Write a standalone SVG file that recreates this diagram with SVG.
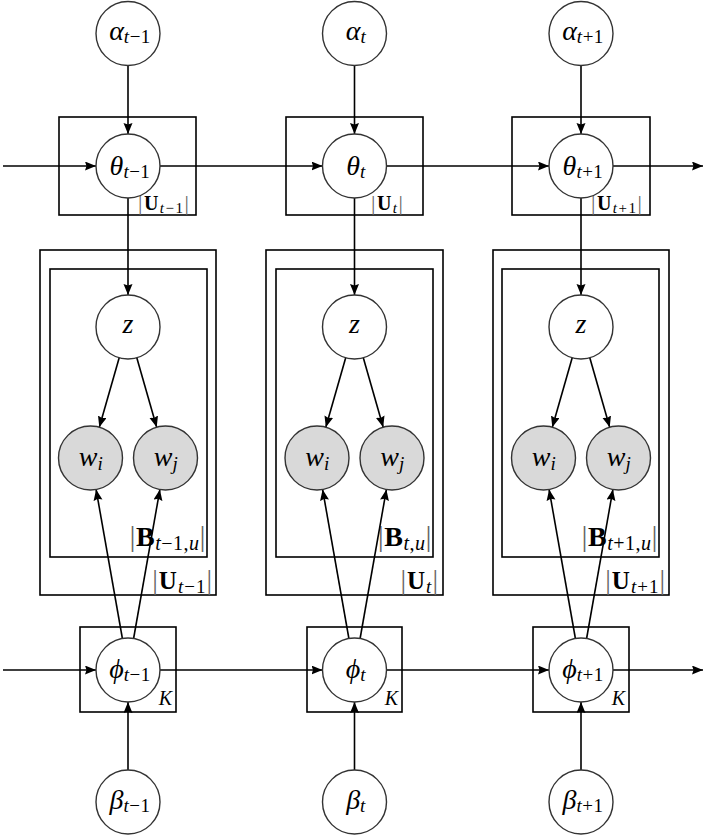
<svg xmlns="http://www.w3.org/2000/svg" width="710" height="836" viewBox="0 0 710 836" font-family="'Liberation Serif', 'Times New Roman', 'DejaVu Serif', serif">
<defs>
<marker id="arr" markerUnits="userSpaceOnUse" markerWidth="13" markerHeight="10" refX="11" refY="4.5" orient="auto"><path d="M0,0 L11,4.5 L0,9 L1.5,4.5 z" fill="#000"/></marker>
</defs>
<style>
.plate{fill:none;stroke:#000;stroke-width:1.6}
.edge{fill:none;stroke:#000;stroke-width:1.6;marker-end:url(#arr)}
.var{fill:#fff;stroke:#333;stroke-width:1.4}
.obs{fill:#d9d9d9;stroke:#333;stroke-width:1.4}
text{fill:#000}
.m{font-size:28px;font-style:italic}
.s{font-size:19px;letter-spacing:0.5px}
.i{font-style:italic}
.n{font-style:normal}
.bar{fill:#666;font-style:normal;font-weight:normal}
.b{font-weight:bold;font-style:normal}
.l1{font-size:20px;letter-spacing:1.5px}
.l1 .bar{font-size:22px}
.l1 .sub{font-size:15px}
.l2{font-size:25px;letter-spacing:1px}
.l2 .bar{font-size:28px}
.l2 .sub{font-size:19px}
.l3{font-size:28px;letter-spacing:0.5px}
.l3 .bar{font-size:30px}
.l3 .sub{font-size:20px}
.k{font-size:20px;font-style:italic}
</style>

<g id="plates">
  <rect class="plate" x="59" y="117" width="137" height="98"/>
  <rect class="plate" x="286" y="117" width="137" height="98"/>
  <rect class="plate" x="512" y="117" width="138" height="98"/>
  <rect class="plate" x="40" y="250" width="176" height="345"/>
  <rect class="plate" x="266" y="250" width="177" height="345"/>
  <rect class="plate" x="493" y="250" width="176" height="345"/>
  <rect class="plate" x="50" y="269" width="157" height="288"/>
  <rect class="plate" x="276" y="269" width="157" height="288"/>
  <rect class="plate" x="502" y="269" width="157" height="288"/>
  <rect class="plate" x="80" y="627" width="96" height="85"/>
  <rect class="plate" x="307" y="627" width="95" height="85"/>
  <rect class="plate" x="533" y="627" width="96" height="85"/>
  <text class="l1" x="138" y="210"><tspan class="bar">|</tspan><tspan class="b">U</tspan><tspan class="sub" dy="3"><tspan class="i">t</tspan>−1</tspan><tspan class="bar" dy="-3">|</tspan></text>
  <text class="l1" x="371" y="210"><tspan class="bar">|</tspan><tspan class="b">U</tspan><tspan class="sub i" dy="3">t</tspan><tspan class="bar" dy="-3">|</tspan></text>
  <text class="l1" x="591" y="210"><tspan class="bar">|</tspan><tspan class="b">U</tspan><tspan class="sub" dy="3"><tspan class="i">t</tspan>+1</tspan><tspan class="bar" dy="-3">|</tspan></text>
  <text class="l3" x="206" y="546" text-anchor="end"><tspan class="bar">|</tspan><tspan class="b">B</tspan><tspan class="sub" dy="4"><tspan class="i">t</tspan>−1,<tspan class="i">u</tspan></tspan><tspan class="bar" dy="-4">|</tspan></text>
  <text class="l3" x="432" y="546" text-anchor="end"><tspan class="bar">|</tspan><tspan class="b">B</tspan><tspan class="sub" dy="4"><tspan class="i">t</tspan>,<tspan class="i">u</tspan></tspan><tspan class="bar" dy="-4">|</tspan></text>
  <text class="l3" x="658" y="546" text-anchor="end"><tspan class="bar">|</tspan><tspan class="b">B</tspan><tspan class="sub" dy="4"><tspan class="i">t</tspan>+1,<tspan class="i">u</tspan></tspan><tspan class="bar" dy="-4">|</tspan></text>
  <text class="l2" x="213" y="589" text-anchor="end"><tspan class="bar">|</tspan><tspan class="b">U</tspan><tspan class="sub" dy="4"><tspan class="i">t</tspan>−1</tspan><tspan class="bar" dy="-4">|</tspan></text>
  <text class="l2" x="439" y="589" text-anchor="end"><tspan class="bar">|</tspan><tspan class="b">U</tspan><tspan class="sub i" dy="4">t</tspan><tspan class="bar" dy="-4">|</tspan></text>
  <text class="l2" x="666" y="589" text-anchor="end"><tspan class="bar">|</tspan><tspan class="b">U</tspan><tspan class="sub" dy="4"><tspan class="i">t</tspan>+1</tspan><tspan class="bar" dy="-4">|</tspan></text>
  <text class="k" x="172" y="705" text-anchor="end">K</text>
  <text class="k" x="398" y="705" text-anchor="end">K</text>
  <text class="k" x="625" y="705" text-anchor="end">K</text>
</g>

<g id="connectors">
  <line class="edge" x1="3" y1="166" x2="96" y2="166"/>
  <line class="edge" x1="160" y1="166" x2="322.5" y2="166"/>
  <line class="edge" x1="386.5" y1="166" x2="549" y2="166"/>
  <line class="edge" x1="613" y1="166" x2="703" y2="166"/>
  <line class="edge" x1="3" y1="670" x2="96" y2="670"/>
  <line class="edge" x1="160" y1="670" x2="322.5" y2="670"/>
  <line class="edge" x1="386.5" y1="670" x2="549" y2="670"/>
  <line class="edge" x1="613" y1="670" x2="703" y2="670"/>

  <line class="edge" x1="128" y1="65.5" x2="128" y2="134"/>
  <line class="edge" x1="354.5" y1="65.5" x2="354.5" y2="134"/>
  <line class="edge" x1="581" y1="65.5" x2="581" y2="134"/>
  <line class="edge" x1="128" y1="198" x2="128" y2="295"/>
  <line class="edge" x1="354.5" y1="198" x2="354.5" y2="295"/>
  <line class="edge" x1="581" y1="198" x2="581" y2="295"/>

  <line class="edge" x1="119.2" y1="357.8" x2="99.3" y2="427.2"/>
  <line class="edge" x1="136.8" y1="357.8" x2="156.7" y2="427.2"/>
  <line class="edge" x1="345.7" y1="357.8" x2="325.8" y2="427.2"/>
  <line class="edge" x1="363.3" y1="357.8" x2="383.2" y2="427.2"/>
  <line class="edge" x1="572.2" y1="357.8" x2="552.3" y2="427.2"/>
  <line class="edge" x1="589.8" y1="357.8" x2="609.7" y2="427.2"/>

  <line class="edge" x1="122.4" y1="638.5" x2="96.1" y2="489.5"/>
  <line class="edge" x1="133.6" y1="638.5" x2="159.9" y2="489.5"/>
  <line class="edge" x1="348.9" y1="638.5" x2="322.6" y2="489.5"/>
  <line class="edge" x1="360.1" y1="638.5" x2="386.4" y2="489.5"/>
  <line class="edge" x1="575.4" y1="638.5" x2="549.1" y2="489.5"/>
  <line class="edge" x1="586.6" y1="638.5" x2="612.9" y2="489.5"/>

  <line class="edge" x1="128" y1="770" x2="128" y2="702"/>
  <line class="edge" x1="354.5" y1="770" x2="354.5" y2="702"/>
  <line class="edge" x1="581" y1="770" x2="581" y2="702"/>
</g>

<g id="alpha_tm1"><circle class="var" cx="128" cy="33.5" r="32"/><text class="m" x="130" y="40" text-anchor="middle">α<tspan class="s" dy="3"><tspan class="i">t</tspan><tspan class="n">−1</tspan></tspan></text></g>
<g id="alpha_t"><circle class="var" cx="354.5" cy="33.5" r="32"/><text class="m" x="356" y="40" text-anchor="middle">α<tspan class="s" dy="3">t</tspan></text></g>
<g id="alpha_tp1"><circle class="var" cx="581" cy="33.5" r="32"/><text class="m" x="583" y="40" text-anchor="middle">α<tspan class="s" dy="3"><tspan class="i">t</tspan><tspan class="n">+1</tspan></tspan></text></g>

<g id="theta_tm1"><circle class="var" cx="128" cy="166" r="32"/><text class="m" x="130" y="175" text-anchor="middle">θ<tspan class="s" dy="3"><tspan class="i">t</tspan><tspan class="n">−1</tspan></tspan></text></g>
<g id="theta_t"><circle class="var" cx="354.5" cy="166" r="32"/><text class="m" x="356" y="175" text-anchor="middle">θ<tspan class="s" dy="3">t</tspan></text></g>
<g id="theta_tp1"><circle class="var" cx="581" cy="166" r="32"/><text class="m" x="583" y="175" text-anchor="middle">θ<tspan class="s" dy="3"><tspan class="i">t</tspan><tspan class="n">+1</tspan></tspan></text></g>

<g id="z_tm1"><circle class="var" cx="128" cy="327" r="32"/><text class="m" x="128" y="333" text-anchor="middle">z</text></g>
<g id="z_t"><circle class="var" cx="354.5" cy="327" r="32"/><text class="m" x="354.5" y="333" text-anchor="middle">z</text></g>
<g id="z_tp1"><circle class="var" cx="581" cy="327" r="32"/><text class="m" x="581" y="333" text-anchor="middle">z</text></g>

<g id="wi_tm1"><circle class="obs" cx="90.5" cy="458" r="32"/><text class="m" x="91" y="466" text-anchor="middle">w<tspan class="s" dy="4">i</tspan></text></g>
<g id="wj_tm1"><circle class="obs" cx="165.5" cy="458" r="32"/><text class="m" x="166" y="466" text-anchor="middle">w<tspan class="s" dy="4">j</tspan></text></g>
<g id="wi_t"><circle class="obs" cx="317" cy="458" r="32"/><text class="m" x="317.5" y="466" text-anchor="middle">w<tspan class="s" dy="4">i</tspan></text></g>
<g id="wj_t"><circle class="obs" cx="392" cy="458" r="32"/><text class="m" x="392.5" y="466" text-anchor="middle">w<tspan class="s" dy="4">j</tspan></text></g>
<g id="wi_tp1"><circle class="obs" cx="543.5" cy="458" r="32"/><text class="m" x="544" y="466" text-anchor="middle">w<tspan class="s" dy="4">i</tspan></text></g>
<g id="wj_tp1"><circle class="obs" cx="618.5" cy="458" r="32"/><text class="m" x="619" y="466" text-anchor="middle">w<tspan class="s" dy="4">j</tspan></text></g>

<g id="phi_tm1"><circle class="var" cx="128" cy="670" r="32"/><text class="m" x="130" y="678" text-anchor="middle">ϕ<tspan class="s" dy="3"><tspan class="i">t</tspan><tspan class="n">−1</tspan></tspan></text></g>
<g id="phi_t"><circle class="var" cx="354.5" cy="670" r="32"/><text class="m" x="356" y="678" text-anchor="middle">ϕ<tspan class="s" dy="3">t</tspan></text></g>
<g id="phi_tp1"><circle class="var" cx="581" cy="670" r="32"/><text class="m" x="583" y="678" text-anchor="middle">ϕ<tspan class="s" dy="3"><tspan class="i">t</tspan><tspan class="n">+1</tspan></tspan></text></g>

<g id="beta_tm1"><circle class="var" cx="128" cy="802" r="32"/><text class="m" x="130" y="809" text-anchor="middle">β<tspan class="s" dy="3"><tspan class="i">t</tspan><tspan class="n">−1</tspan></tspan></text></g>
<g id="beta_t"><circle class="var" cx="354.5" cy="802" r="32"/><text class="m" x="356" y="809" text-anchor="middle">β<tspan class="s" dy="3">t</tspan></text></g>
<g id="beta_tp1"><circle class="var" cx="581" cy="802" r="32"/><text class="m" x="583" y="809" text-anchor="middle">β<tspan class="s" dy="3"><tspan class="i">t</tspan><tspan class="n">+1</tspan></tspan></text></g>
</svg>
